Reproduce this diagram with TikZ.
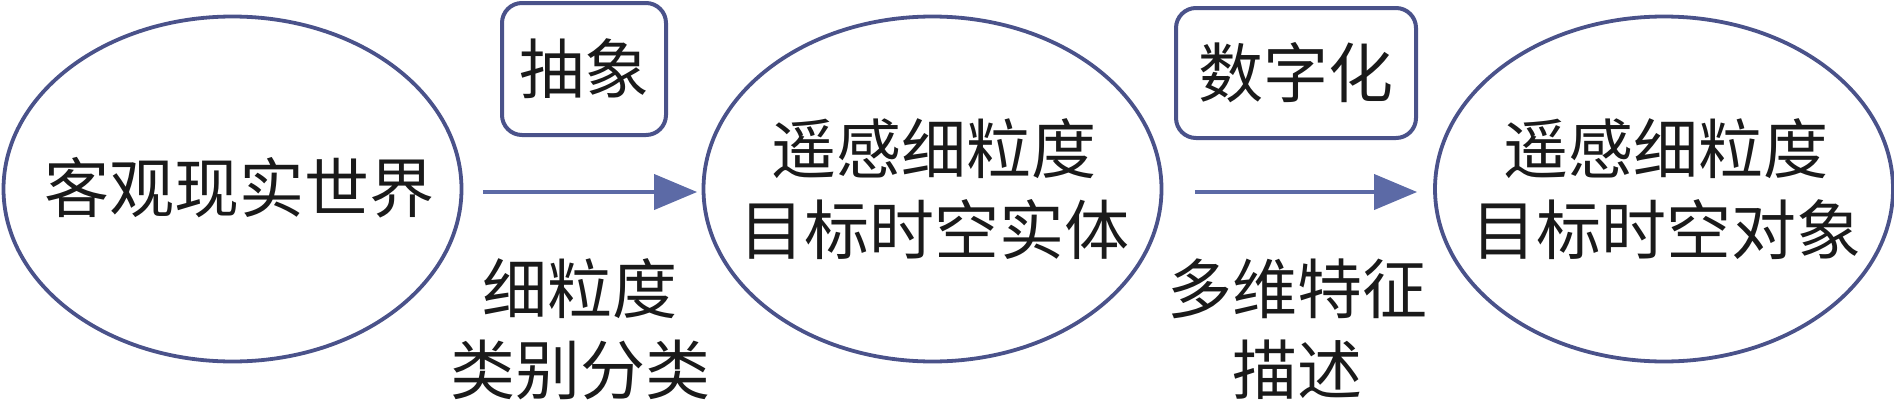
\documentclass[tikz,border=0pt]{standalone}
\usepackage{fontspec}
\newfontfamily\cjk{Noto Sans CJK SC}
\usetikzlibrary{arrows.meta,shapes.geometric}
\definecolor{ringblue}{RGB}{74,82,138}
\definecolor{arrowblue}{RGB}{92,106,166}
\definecolor{ink}{RGB}{26,26,26}
\begin{document}
\begin{tikzpicture}[x=1pt,y=-1pt,
  txt/.style={font=\cjk\fontsize{65}{81}\selectfont, text=ink, align=center, inner sep=0pt},
  oval/.style={ellipse, draw=ringblue, line width=3.8pt, minimum width=458pt, minimum height=345pt, inner sep=0pt},
  tag/.style={rectangle, rounded corners=20pt, draw=ringblue, line width=4pt, inner sep=0pt, txt},
  arr/.style={draw=arrowblue, line width=4pt, -{Triangle[length=43pt,width=35pt]}}]
\useasboundingbox (0,0) rectangle (1894,402);
\node[oval] (world) at (232.5,189) {};
\node[oval] (entity) at (932.5,189) {};
\node[oval] (object) at (1664,189) {};
\node[txt] (worldtext) at (239,188) {客观现实世界};
\node[txt] (entitytext) at (934,189) {遥感细粒度\\目标时空实体};
\node[txt] (objecttext) at (1666,189) {遥感细粒度\\目标时空对象};
\node[tag, minimum width=164pt, minimum height=132pt] (abstr) at (584,69) {抽象};
\node[tag, minimum width=240pt, minimum height=130pt] (digit) at (1296,73) {数字化};
\node[txt] (cls) at (580,329) {细粒度\\类别分类};
\node[txt] (feat) at (1297.5,329) {多维特征\\描述};
\draw[arr, shorten <=19.5pt, shorten >=4.5pt] ([yshift=-3pt]world.east) -- ([yshift=-3pt]entity.west);
\draw[arr, shorten <=31.5pt, shorten >=16pt] ([yshift=-3pt]entity.east) -- ([yshift=-3pt]object.west);
\end{tikzpicture}
\end{document}
